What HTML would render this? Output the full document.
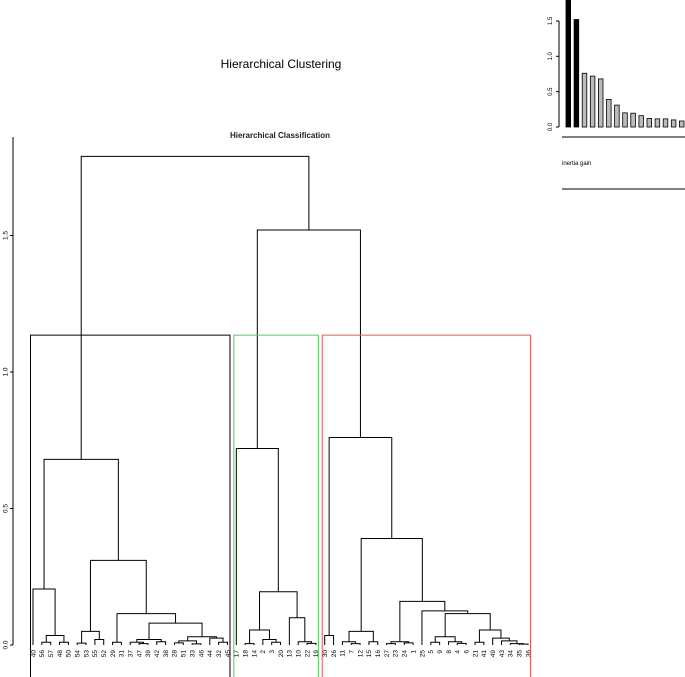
<!DOCTYPE html>
<html><head><meta charset="utf-8"><style>
html,body{margin:0;padding:0;background:#fff;overflow:hidden;width:685px;height:677px;}
svg{display:block;font-family:"Liberation Sans",sans-serif;overflow:hidden;}
</style></head><body>
<svg id="chart" width="685" height="677" viewBox="0 0 685 677">
<text x="281" y="68" font-size="12" text-anchor="middle">Hierarchical Clustering</text>
<text x="280" y="138" font-size="8" font-weight="bold" text-anchor="middle" fill="#222">Hierarchical Classification</text>
<g id="dendro"></g>
<g id="inertia"></g>
<line x1="562" y1="137" x2="685" y2="137" stroke="#000" stroke-width="1"/>
<text x="562" y="165" font-size="6">inertia gain</text>
<line x1="562" y1="189" x2="685" y2="189" stroke="#000" stroke-width="1"/>
</svg>
<script>
// Dendrogram merge structure: [height, left, right]; leaves are labels
const cluster1 = [0.68,
 [0.205, "40", [0.035, [0.01,"56","57"], [0.01,"48","50"]]],
 [0.31,
   [0.05, [0.007,"54","53"], [0.02,"55","52"]],
   [0.115, [0.01,"29","31"],
     [0.08,
       [0.02, [0.01,"37",[0.005,"47","39"]], [0.012,"42","38"]],
       [0.03, [0.015,[0.008,"28","51"],[0.004,"33","46"]], [0.025,"44",[0.01,"32","45"]]]]]]];
const cluster2 = [0.72, "17", [0.195, [0.055,[0.005,"18","14"],[0.02,"2",[0.01,"3","20"]]], [0.1,"13",[0.012,"10",[0.006,"22","19"]]]]];
const cluster3 = [0.76, [0.035,"30","26"], [0.39,
  [0.05, [0.012,"11",[0.005,"7","12"]], [0.012,"15","16"]],
  [0.16, [0.012,[0.005,"27","23"],[0.008,"24","1"]],
    [0.125,"25",[0.115,
       [0.03,[0.01,"5","9"],[0.012,"8",[0.006,"4","6"]]],
       [0.055,[0.01,"21","41"],[0.025,"49",[0.015,"43",[0.005,"34",[0.003,"35","36"]]]]]]]]]];
const rootHeights = [1.79, 1.52];
const yTicks = [0, 0.5, 1.0, 1.5];
const yTickLabels = ["0.0", "0.5", "1.0", "1.5"];
const cutHeight = 1.135;
const inertiaGain = [1.79, 1.52, 0.76, 0.72, 0.68, 0.39, 0.31, 0.2, 0.195, 0.16, 0.12, 0.115, 0.115, 0.1, 0.085];
const inertiaTicks = [0, 0.5, 1.0, 1.5];
const inertiaTickLabels = ["0.0", "0.5", "1.0", "1.5"];

const NS = "http://www.w3.org/2000/svg";
function mk(tag, attrs, parent){const e=document.createElementNS(NS,tag);for(const k in attrs)e.setAttribute(k,attrs[k]);parent.appendChild(e);return e;}
const root = [rootHeights[0], cluster1, [rootHeights[1], cluster2, cluster3]];
const y = v => 645 - v*273;
const x0 = 33, dx = 8.84;
const g = document.getElementById('dendro');
let leafIdx = 0;
function layout(n){
  if(typeof n === 'string'){const x=x0+dx*(leafIdx++);return {x:x,h:0,label:n,leaf:true};}
  const l=layout(n[1]), r=layout(n[2]);
  return {x:(l.x+r.x)/2,h:n[0],l:l,r:r};
}
const tree = layout(root);
function draw(n){
  if(n.leaf){
    const t=mk('text',{x:0,y:0,'font-size':6.5,'text-anchor':'end',transform:`translate(${n.x+2.3},650) rotate(-90)`},g);
    
    
    t.textContent=n.label;
    return;
  }
  const yy=y(n.h);
  const p=mk('path',{d:`M${n.l.x},${y(n.l.h)}V${yy}H${n.r.x}V${y(n.r.h)}`,fill:'none',stroke:'#000','stroke-width':1},g);
  
  
  draw(n.l); draw(n.r);
}
draw(tree);
// cluster boxes
function extent(n){if(n.leaf)return[n.x,n.x];const a=extent(n.l),b=extent(n.r);return[Math.min(a[0],b[0]),Math.max(a[1],b[1])];}
const boxColors=['#000','#5c5','#e55'];
[tree.l, tree.r.l, tree.r.r].forEach((c,i)=>{
  const e=extent(c);
  const top=y(cutHeight);
  const p=mk('path',{d:`M${e[0]-2.5},677V${top}H${e[1]+2.5}V677`,fill:'none',stroke:boxColors[i],'stroke-width':1},g);
  
  
});
// y axis
const ax=mk('line',{x1:13,y1:137,x2:13,y2:y(0),stroke:'#000'},g);


yTicks.forEach((v,i)=>{
  mk('line',{x1:10,y1:y(v),x2:13,y2:y(v),stroke:'#000'},g);
  const t=mk('text',{x:0,y:0,'font-size':6.5,'text-anchor':'middle',transform:`translate(7.5,${y(v)}) rotate(-90)`},g);
  
  
  t.textContent=yTickLabels[i];
});
// inertia chart
const gi=document.getElementById('inertia');
const yi=v=>127-v*70.7;
inertiaGain.forEach((v,i)=>{
  const r=mk('rect',{x:566+i*8.1,y:yi(v),width:4.6,height:v*70.7,fill:i<2?'#000':'#bbb',stroke:'#000','stroke-width':0.8},gi);
  
  
});
mk('line',{x1:559,y1:yi(0),x2:559,y2:yi(1.5),stroke:'#000'},gi);
inertiaTicks.forEach((v,i)=>{
  mk('line',{x1:556,y1:yi(v),x2:559,y2:yi(v),stroke:'#000'},gi);
  const t=mk('text',{x:0,y:0,'font-size':6,'text-anchor':'middle',transform:`translate(552,${yi(v)}) rotate(-90)`},gi);
  
  
  t.textContent=inertiaTickLabels[i];
});
</script>
</body></html>
